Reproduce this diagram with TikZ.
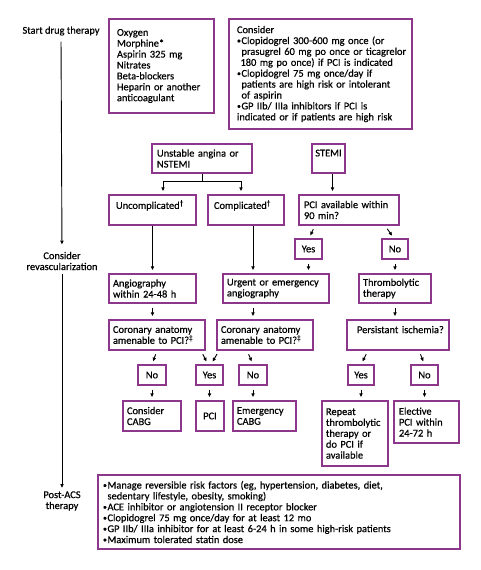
\documentclass[tikz,border=0pt]{standalone}
\usepackage{fontspec}
\setmainfont{Carlito}[FakeBold=0.5]
\usetikzlibrary{arrows.meta,calc}
\definecolor{pborder}{RGB}{140,55,140}
\newcommand\bu{\makebox[4.5pt][l]{\raisebox{0.15ex}{\scalebox{0.75}{•}}}}
\newcommand\ind{\hspace*{4.5pt}}
\begin{document}
\begin{tikzpicture}[x=1pt,y=-1pt,
  txt/.style={font=\fontsize{10.4}{10.9}\selectfont},
  bx/.style={txt, draw=pborder, line width=1.2pt, fill=white, align=left, inner ysep=2pt, inner xsep=5pt},
  sm/.style={txt, draw=pborder, line width=1.2pt, fill=white, align=center, inner sep=0pt},
  arr/.style={draw=black, line width=0.9pt, -{Latex[length=4pt,width=3.8pt]}, shorten >=3pt},
  sh/.style={shorten <=4pt},
  lbl/.style={txt, align=center, inner sep=1pt}]
\useasboundingbox (0,0) rectangle (480,570);

% left labels
\node[lbl] (start) at (61,31) {Start drug therapy};
\node[lbl] (revasc) at (62,261) {Consider\\revascularization};
\node[lbl] (post) at (62,501) {Post-ACS\\therapy};

% top boxes
\node[bx, minimum width=105pt, minimum height=94pt, inner xsep=8pt, text width=89pt] (oxy) at (161.5,66)
  {Oxygen\\Morphine*\\Aspirin 325 mg\\Nitrates\\Beta-blockers\\Heparin or another\\anticoagulant};
\node[bx, minimum width=183pt, minimum height=110pt, inner xsep=8pt, text width=167pt] (cons) at (320.5,74)
  {Consider\\
   \mbox{\bu Clopidogrel 300-600 mg once (or}\\
   \mbox{\ind prasugrel 60 mg po once or ticagrelor}\\
   \mbox{\hspace*{3.5pt}180 mg po once) if PCI is indicated}\\
   \mbox{\bu Clopidogrel 75 mg once/day if}\\
   \mbox{\ind patients are high risk or intolerant}\\
   \mbox{\ind of aspirin}\\
   \mbox{\bu GP IIb/ IIIa inhibitors if PCI is}\\
   \mbox{indicated or if patients are high risk}};

% second row
\node[bx, minimum width=100pt, minimum height=29pt, text width=90pt] (ua) at (202,158.5)
  {Unstable angina or\\NSTEMI};
\node[sm, minimum width=33pt, minimum height=29pt] (stemi) at (328.5,158.5) {STEMI\\\mbox{}};

\node[bx, minimum width=87pt, minimum height=30pt, inner xsep=7pt, text width=73pt] (uncomp) at (152.5,210)
  {Uncomplicated\textsuperscript{†}\\\mbox{}};
\node[bx, minimum width=76pt, minimum height=30pt, inner xsep=6pt, text width=64pt] (comp) at (246,210)
  {Complicated\textsuperscript{†}\\\mbox{}};
\node[bx, minimum width=100pt, minimum height=30pt, inner xsep=5pt, text width=90pt] (pciq) at (349,210)
  {PCI available within\\90 min?};

\node[sm, minimum width=27pt, minimum height=20pt] (yesA) at (308.5,249) {Yes};
\node[sm, minimum width=26pt, minimum height=20pt] (noA) at (395,249) {No};

% third row
\node[bx, minimum width=87pt, minimum height=29pt, inner xsep=4pt, text width=79pt] (angio) at (152.5,288.5)
  {Angiography\\within 24-48 h};
\node[bx, minimum width=106pt, minimum height=29pt, inner xsep=4pt, text width=98pt] (urg) at (276,288.5)
  {Urgent or emergency\\angiography};
\node[bx, minimum width=72pt, minimum height=29pt, inner xsep=4pt, text width=64pt] (thromb) at (395,288.5)
  {Thrombolytic\\therapy};

\node[bx, minimum width=96pt, minimum height=30pt, inner xsep=4pt, text width=88pt] (cor1) at (157,335)
  {Coronary anatomy\\amenable to PCI?\textsuperscript{‡}};
\node[bx, minimum width=96pt, minimum height=30pt, inner xsep=4pt, text width=88pt] (cor2) at (265,335)
  {Coronary anatomy\\amenable to PCI?\textsuperscript{‡}};
\node[bx, minimum width=102pt, minimum height=30pt, inner xsep=3pt, text width=96pt] (pers) at (398,335)
  {\hspace*{7pt}Persistant ischemia?\\\mbox{}};

\node[sm, minimum width=28pt, minimum height=20pt] (no1) at (152,375) {No};
\node[sm, minimum width=27pt, minimum height=20pt] (yes1) at (209.5,375) {Yes};
\node[sm, minimum width=28pt, minimum height=20pt] (no2) at (253,375) {No};
\node[sm, minimum width=26pt, minimum height=20pt] (yes2) at (361,375) {Yes};
\node[sm, minimum width=27pt, minimum height=20pt] (no3) at (424.5,375) {No};

\node[bx, minimum width=58pt, minimum height=30pt, inner xsep=4pt, text width=50pt] (cabg) at (152,416)
  {Consider\\CABG};
\node[sm, minimum width=28pt, minimum height=30pt] (pci) at (210,416) {PCI};
\node[bx, minimum width=63pt, minimum height=30pt, inner xsep=4pt, text width=55pt] (ecabg) at (264.5,416)
  {Emergency\\CABG};
\node[bx, minimum width=66pt, minimum height=65pt, inner xsep=4pt, text width=58pt] (rep) at (355,433.5)
  {Repeat\\thrombolytic\\therapy or\\do PCI if\\available};
\node[bx, minimum width=65pt, minimum height=42pt, inner xsep=5pt, text width=55pt] (elec) at (426.5,422)
  {Elective\\PCI within\\24-72 h};

\node[bx, minimum width=362pt, minimum height=74pt, inner xsep=5pt, text width=352pt] (postbox) at (279,512)
  {\bu Manage reversible risk factors (eg, hypertension, diabetes, diet,\\
   \ind sedentary lifestyle, obesity, smoking)\\
   \bu ACE inhibitor or angiotension II receptor blocker\\
   \bu Clopidogrel 75 mg once/day for at least 12 mo\\
   \bu GP IIb/ IIIa inhibitor for at least 6-24 h in some high-risk patients\\
   \bu Maximum tolerated statin dose};

% left timeline
\draw[arr, shorten <=5pt, shorten >=6pt] (start.south) -- (revasc.north);
\draw[arr, shorten <=3pt, shorten >=2pt] (revasc.south) -- (post.north);

% connectors
\draw[arr] (ua.south) -- ++(0,8) -| ([xshift=10.5pt]uncomp.north);
\draw[arr] (ua.south) -- ++(0,8) -| ([xshift=-5pt]comp.north);
\draw[arr] ([xshift=4pt]stemi.south) -- ([xshift=4pt]stemi.south |- pciq.north);
\draw[arr, sh] ($(pciq.south)+(-34,0)$) -- ($(yesA.north)+(0.5,0)$);
\draw[arr, sh] ($(pciq.south)+(36,0)$) -- ($(noA.north)+(-1,0)$);
\draw[arr] (uncomp.south) -- (angio.north);
\draw[arr] ([xshift=7pt]comp.south) -- ([xshift=7pt]comp.south |- urg.north);
\draw[arr, sh] (yesA.south) -- (yesA.south |- urg.north);
\draw[arr, sh] (noA.south) -- (thromb.north);
\draw[arr, sh] (angio.south) -- (angio.south |- cor1.north);
\draw[arr, sh] ([xshift=7pt]comp.south |- urg.south) -- ([xshift=7pt]comp.south |- cor2.north);
\draw[arr, sh] (thromb.south) -- (thromb.south |- pers.north);
\draw[arr, sh] (cor1.south) -- (no1.north);
\draw[arr, sh] ($(cor1.south)+(44,0)$) -- ($(yes1.north)+(-1.5,0)$);
\draw[arr, sh] ($(cor2.south)+(-46,0)$) -- ($(yes1.north)+(1.5,0)$);
\draw[arr, sh] ($(cor2.south)+(-18,0)$) -- (no2.north);
\draw[arr, sh] ($(pers.south)+(-30,0)$) -- (yes2.north);
\draw[arr, sh] ($(pers.south)+(21,0)$) -- (no3.north);
\draw[arr, sh] (no1.south) -- (cabg.north);
\draw[arr, sh] (yes1.south) -- (yes1.south |- pci.north);
\draw[arr, sh] (no2.south) -- (no2.south |- ecabg.north);
\draw[arr, sh] (yes2.south) -- (yes2.south |- rep.north);
\draw[arr, sh] (no3.south) -- (no3.south |- elec.north);
\end{tikzpicture}
\end{document}
